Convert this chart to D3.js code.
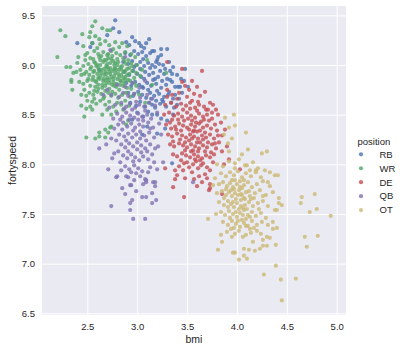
<!DOCTYPE html>
<html>
<head>
<meta charset="utf-8">
<script src="https://cdn.jsdelivr.net/npm/d3@7"></script>
<style>
  body { margin: 0; background: #fff; }
  text { font-family: "Liberation Sans", Arial, sans-serif; fill: #262626; }
</style>
</head>
<body>
<div id="chart"></div>
<script>
// categories and colours (seaborn "deep")
const positions = ['RB', 'WR', 'DE', 'QB', 'OT'];
const colors = ['#4C72B0', '#55A868', '#C44E52', '#8172B2', '#CCB974'];
const xTicks = [2.5, 3.0, 3.5, 4.0, 4.5, 5.0];
const yTicks = [6.5, 7.0, 7.5, 8.0, 8.5, 9.0, 9.5];

// [bmi, fortyspeed]
const rbPoints = [
  [2.78,9.45],[2.76,9.37],[2.82,9.33],[2.40,9.22],[2.89,9.23],[3.24,9.16],[3.30,9.16],[3.15,9.14],[3.21,9.08],[3.24,9.10],
  [3.19,9.03],[3.36,8.98],[3.48,8.96],[3.18,8.86],[3.43,8.78],[3.51,8.78],[3.15,8.60],[3.20,8.50],[3.26,8.63],[3.36,8.50],
  [3.20,8.31],[3.35,8.01],[3.15,8.50],[2.55,9.22],[2.62,8.95],[2.70,9.30],[2.53,9.18],[3.35,8.91],[3.33,8.85],
  [2.92,9.20],[2.98,9.24],[3.04,9.19],[3.09,9.22],[3.02,9.22],[2.95,9.28],[3.12,9.26],
  [2.88,9.12],[2.93,9.10],[2.97,9.14],[3.01,9.11],[3.05,9.13],[3.09,9.09],[3.13,9.12],[3.17,9.14],[3.07,9.17],
  [2.86,9.03],[2.91,9.01],[2.95,9.04],[2.99,9.00],[3.03,9.03],[3.07,8.99],[3.11,9.02],[3.15,9.00],[3.20,9.05],[3.26,9.00],[3.32,9.03],
  [2.87,8.93],[2.92,8.90],[2.96,8.94],[3.00,8.91],[3.04,8.88],[3.08,8.93],[3.12,8.90],[3.16,8.92],[3.21,8.88],[3.27,8.91],[3.33,8.94],[3.40,8.90],
  [2.89,8.82],[2.94,8.79],[2.98,8.83],[3.02,8.80],[3.06,8.77],[3.10,8.82],[3.14,8.79],[3.19,8.81],[3.24,8.77],[3.29,8.80],[3.35,8.83],[3.41,8.78],[3.47,8.84],
  [2.91,8.72],[2.96,8.69],[3.01,8.73],[3.05,8.70],[3.09,8.67],[3.13,8.72],[3.17,8.69],[3.22,8.71],[3.27,8.68],[3.32,8.73],[3.38,8.70],[3.45,8.72],
  [2.93,8.62],[2.99,8.59],[3.03,8.63],[3.08,8.58],[3.12,8.62],[3.18,8.57],[3.23,8.61],[3.29,8.58],[3.34,8.62],[3.40,8.60],
  [3.00,8.52],[3.06,8.48],[3.11,8.53],[3.24,8.46],[3.30,8.44],[2.95,8.45],[3.10,8.38],[3.28,8.36],[3.05,8.30],
  [3.03,8.96],[3.13,8.97],[3.23,8.94],[3.16,8.85],[3.07,8.86],[3.25,8.84],[3.11,8.75],[3.20,8.74],[3.30,8.86],[2.97,8.98],
  [3.06,9.06],[3.18,8.98],[3.28,8.96],[3.14,8.66],[3.25,8.65],[3.36,8.66],[3.38,8.78],[3.44,8.86],[3.05,8.78],[3.22,9.01],
  [3.31,8.70],[3.37,8.57],[3.19,8.64],[3.42,8.66]
];
const wrPoints = [
  [2.20,9.08],[2.23,9.35],[2.28,9.29],[2.29,8.98],[2.33,8.98],[2.34,8.83],[2.35,8.75],[2.34,8.85],[2.40,9.02],[2.43,8.95],
  [2.44,8.90],[2.45,9.31],[2.46,9.19],[2.46,8.81],[2.47,8.75],[2.49,8.69],[2.44,8.59],[2.49,8.56],[2.47,8.48],[2.55,8.55],
  [2.58,8.26],[2.62,8.28],[2.68,8.35],[2.71,8.32],[2.74,8.38],[2.65,8.50],[2.74,8.50],[2.89,8.40],[2.91,8.44],[2.49,8.27],
  [2.62,8.32],[2.55,9.39],[2.58,9.44],[2.65,9.37],[2.70,9.35],[2.73,9.35],[2.53,9.33],[2.52,9.28],[2.58,9.29],[2.62,9.26],
  [3.29,8.92],[3.15,8.80],[3.05,8.95],[3.10,9.05],[3.02,8.70],[3.08,8.62],[2.73,8.37],[2.68,8.27],
  [2.55,9.22],[2.63,9.21],[2.68,9.24],[2.72,9.20],[2.78,9.23],[2.85,9.22],[2.60,9.17],[2.76,9.16],[2.82,9.18],[2.90,9.19],
  [2.50,9.12],[2.57,9.14],[2.61,9.11],[2.66,9.13],[2.70,9.10],[2.74,9.14],[2.79,9.12],[2.83,9.10],[2.88,9.13],[2.94,9.11],[2.53,9.07],[2.98,9.08],
  [2.56,9.06],[2.62,9.08],[2.67,9.05],[2.71,9.07],[2.75,9.09],[2.80,9.06],[2.86,9.07],[2.91,9.05],[2.48,9.05],
  [2.51,9.01],[2.58,9.02],[2.63,9.00],[2.66,9.03],[2.69,8.99],[2.73,9.02],[2.77,9.00],[2.81,9.03],[2.85,8.99],[2.89,9.01],[2.94,9.02],[3.00,9.00],[2.46,8.99],
  [2.53,8.96],[2.57,8.94],[2.61,8.97],[2.64,8.95],[2.68,8.93],[2.71,8.96],[2.75,8.94],[2.78,8.97],[2.82,8.95],[2.86,8.93],[2.90,8.96],[2.95,8.94],[2.99,8.92],[2.49,8.93],
  [2.52,8.90],[2.56,8.88],[2.60,8.91],[2.63,8.89],[2.67,8.90],[2.70,8.87],[2.73,8.91],[2.77,8.89],[2.80,8.86],[2.84,8.90],[2.88,8.88],[2.92,8.91],[2.97,8.87],[3.03,8.89],
  [2.50,8.84],[2.55,8.85],[2.59,8.83],[2.62,8.86],[2.66,8.84],[2.69,8.82],[2.72,8.85],[2.76,8.83],[2.79,8.81],[2.83,8.84],[2.87,8.82],[2.91,8.85],[2.96,8.82],
  [2.53,8.79],[2.58,8.78],[2.61,8.80],[2.65,8.77],[2.68,8.79],[2.72,8.76],[2.75,8.80],[2.79,8.78],[2.82,8.75],[2.86,8.79],[2.90,8.77],[2.94,8.76],[2.99,8.79],
  [2.52,8.72],[2.56,8.70],[2.60,8.73],[2.64,8.71],[2.67,8.68],[2.71,8.72],[2.74,8.69],[2.78,8.71],[2.81,8.67],[2.85,8.70],[2.89,8.72],[2.93,8.68],[2.97,8.71],
  [2.55,8.63],[2.59,8.61],[2.63,8.64],[2.68,8.60],[2.72,8.63],[2.76,8.58],[2.80,8.62],[2.84,8.60],[2.88,8.64],[2.92,8.59],[2.57,8.66],[2.70,8.55],[2.79,8.53],[2.86,8.55],
  [2.64,8.92],[2.70,8.98],[2.74,8.88],[2.78,8.92],[2.66,8.86],[2.80,9.00],[2.84,8.96],[2.76,9.04],[2.62,8.94],[2.72,8.82],[2.88,8.85],[2.69,9.05],[2.82,8.88],
  [2.59,8.99],[2.67,8.96],[2.73,8.97],[2.61,8.87],[2.76,8.86],[2.83,8.98],[2.57,9.03],[2.70,9.01],[2.65,8.80],[2.79,8.95],
  [2.87,9.04],[2.63,9.05],[2.77,8.79],[2.69,8.91],[2.81,8.91],[2.74,9.06],[2.56,8.93],[2.92,8.97],[2.86,8.87],[2.68,8.74],
  [2.58,8.84],[2.72,8.93],[2.64,9.09],[2.83,8.80],[2.90,8.90],[2.54,8.98],[2.66,8.66],[2.78,9.02],[2.95,8.99],[2.61,8.76],
  [2.75,8.73],[2.51,8.86],[2.88,8.94],[2.71,9.11],[2.60,9.00],[2.84,8.84],[2.69,8.85],[2.77,8.96],[2.93,8.84],[2.57,8.74],
  [2.47,8.91],[2.42,8.83],[2.44,8.70],[2.39,8.93],[2.48,9.10],[2.41,9.08],[2.36,8.92],[2.50,8.64],[2.53,8.58]
];
const dePoints = [
  [3.30,9.03],[3.45,8.96],[3.65,8.94],[3.73,8.62],[4.03,7.95],[3.85,7.70],[3.73,7.80],[3.73,7.76],[3.36,7.77],[3.47,7.67],
  [3.38,7.85],[3.40,7.89],[3.48,7.86],[3.38,7.94],[3.28,7.96],[3.73,7.94],[3.72,7.74],[3.81,8.50],[3.75,8.52],[3.85,8.29],
  [3.90,8.18],[3.85,8.13],[3.55,8.84],[3.45,8.83],[3.60,8.78],[3.48,8.79],[3.52,8.75],[3.30,8.75],[3.61,8.63],
  [3.79,8.55],[3.84,8.42],[3.88,8.35],[3.82,8.22],[3.92,8.05],[3.87,8.00],
  [3.35,8.70],[3.42,8.72],[3.50,8.68],[3.57,8.71],[3.63,8.69],[3.68,8.73],[3.40,8.66],[3.55,8.64],[3.30,8.68],
  [3.28,8.60],[3.34,8.62],[3.39,8.58],[3.44,8.61],[3.49,8.59],[3.53,8.62],[3.58,8.57],[3.62,8.60],[3.67,8.58],[3.71,8.55],[3.76,8.60],[3.46,8.55],[3.60,8.54],
  [3.27,8.50],[3.32,8.52],[3.37,8.49],[3.41,8.51],[3.45,8.48],[3.50,8.52],[3.54,8.49],[3.58,8.47],[3.62,8.51],[3.66,8.48],[3.70,8.50],[3.75,8.46],[3.35,8.45],[3.55,8.44],[3.64,8.43],
  [3.29,8.40],[3.33,8.42],[3.38,8.38],[3.42,8.41],[3.46,8.39],[3.50,8.37],[3.54,8.40],[3.58,8.38],[3.62,8.41],[3.66,8.37],[3.70,8.39],[3.74,8.36],[3.78,8.40],[3.44,8.34],[3.60,8.33],[3.68,8.32],
  [3.31,8.30],[3.35,8.28],[3.40,8.31],[3.45,8.29],[3.49,8.27],[3.53,8.30],[3.57,8.28],[3.61,8.26],[3.65,8.29],[3.69,8.27],[3.73,8.30],[3.77,8.26],[3.81,8.29],[3.52,8.24],[3.63,8.22],[3.56,8.33],
  [3.33,8.20],[3.37,8.18],[3.42,8.21],[3.46,8.19],[3.50,8.17],[3.54,8.20],[3.58,8.18],[3.62,8.16],[3.66,8.19],[3.70,8.17],[3.75,8.20],[3.79,8.16],[3.60,8.22],[3.68,8.13],[3.56,8.14],
  [3.36,8.10],[3.40,8.08],[3.45,8.11],[3.49,8.09],[3.53,8.07],[3.57,8.10],[3.61,8.08],[3.65,8.06],[3.69,8.09],[3.73,8.07],[3.77,8.10],[3.59,8.03],[3.66,8.01],
  [3.42,7.98],[3.47,8.01],[3.52,7.97],[3.56,8.00],[3.61,7.96],[3.64,7.99],[3.70,7.97],[3.76,8.02],[3.55,7.92],[3.68,7.90],[3.62,7.88],
  [3.57,7.85],[3.65,7.82],[3.60,7.78],[3.70,7.86],
  [3.47,8.44],[3.52,8.35],[3.59,8.42],[3.43,8.25],[3.48,8.14],[3.55,8.26],[3.63,8.34],[3.71,8.22],[3.39,8.35],[3.58,8.05],
  [3.51,8.46],[3.67,8.45],[3.44,8.04],[3.74,8.12],[3.61,8.13],[3.53,8.56],[3.41,8.45],[3.66,8.25],[3.48,8.22],[3.57,8.34],
  [3.72,8.44],[3.36,8.23],[3.80,8.34],[3.63,8.04],[3.50,8.02],[3.69,8.55],[3.34,8.36],[3.46,7.94],[3.78,8.21],[3.54,8.13]
];
const qbPoints = [
  [2.62,8.16],[2.71,7.95],[2.74,8.26],[2.77,8.11],[2.79,7.87],[2.85,7.76],[2.94,7.79],[2.99,7.91],[3.09,7.84],[3.11,7.92],
  [2.74,7.58],[2.96,7.45],[3.08,7.45],[2.93,7.54],[2.95,7.64],[3.05,7.67],[3.09,7.67],[3.15,7.61],[3.19,7.64],[3.15,7.71],
  [2.88,7.70],[2.80,7.88],[2.89,7.88],[2.93,7.79],[3.16,7.82],[3.18,7.82],[3.09,7.82],[3.08,7.85],[2.93,7.61],[3.18,8.16],
  [3.17,8.02],[3.26,8.02],[3.56,7.82],[3.18,7.78],[2.73,9.15],[2.88,9.08],
  [2.80,8.80],[2.88,8.78],[2.95,8.82],[3.02,8.77],[2.70,8.75],[3.08,8.84],
  [2.74,8.70],[2.82,8.68],[2.86,8.72],[2.91,8.69],[2.97,8.71],[3.03,8.67],[3.10,8.70],[2.66,8.70],[3.15,8.66],
  [2.78,8.60],[2.84,8.62],[2.89,8.58],[2.93,8.61],[2.98,8.57],[3.02,8.60],[3.07,8.58],[3.12,8.62],[2.72,8.57],[3.18,8.59],
  [2.80,8.51],[2.85,8.48],[2.89,8.52],[2.93,8.49],[2.97,8.47],[3.01,8.51],[3.05,8.48],[3.10,8.50],[3.14,8.46],[2.76,8.46],[3.20,8.52],
  [2.81,8.40],[2.86,8.42],[2.90,8.38],[2.94,8.41],[2.98,8.37],[3.02,8.40],[3.06,8.38],[3.11,8.42],[3.16,8.37],[2.77,8.36],[3.22,8.41],
  [2.82,8.30],[2.87,8.28],[2.91,8.31],[2.95,8.27],[2.99,8.30],[3.03,8.26],[3.07,8.29],[3.12,8.32],[3.17,8.27],[2.79,8.24],[3.24,8.30],
  [2.84,8.20],[2.88,8.17],[2.92,8.21],[2.96,8.18],[3.00,8.15],[3.04,8.19],[3.08,8.16],[3.13,8.20],[2.81,8.13],[3.21,8.18],[2.69,8.20],
  [2.86,8.09],[2.90,8.06],[2.94,8.10],[2.98,8.07],[3.02,8.04],[3.06,8.08],[3.11,8.05],[3.15,8.10],[2.83,8.02],[2.75,8.06],
  [2.88,7.98],[2.92,7.95],[2.97,7.99],[3.01,7.96],[3.05,7.93],[3.13,7.97],[2.84,7.94],[3.20,7.95],
  [2.91,7.87],[2.97,7.84],[3.03,7.88],[3.06,7.80],[2.99,7.73],
  [2.92,8.45],[2.96,8.34],[3.03,8.33],[2.89,8.24],[3.00,8.22],[3.06,8.44],[2.95,8.55],[3.09,8.24],[2.85,8.35],[3.04,8.12],
  [2.91,8.13],[3.08,8.54],[2.99,8.63],[2.87,8.56],[3.13,8.36],[2.96,8.03],[2.83,8.45],[3.10,8.13],[2.94,7.92],[3.01,8.45]
];
const otPoints = [
  [3.88,8.47],[3.97,8.50],[3.92,8.37],[3.98,8.39],[4.09,8.32],[3.87,8.30],[3.95,8.26],[3.91,8.21],[3.92,8.13],[4.11,8.15],
  [4.05,8.10],[4.25,8.11],[4.30,8.13],[3.98,8.01],[4.08,7.99],[4.33,7.92],[4.38,7.89],[4.41,7.89],[4.19,7.94],[4.13,7.94],[4.31,7.82],
  [3.92,8.03],[3.86,7.98],[3.98,7.96],[4.02,8.05],[4.10,7.99],[4.16,8.02],[4.21,7.96],[3.80,8.00],
  [3.84,7.91],[3.89,7.88],[3.93,7.92],[3.97,7.89],[4.01,7.93],[4.05,7.87],[4.09,7.91],[4.14,7.88],[4.19,7.92],[4.24,7.87],[3.78,7.86],[4.28,7.94],
  [3.82,7.80],[3.86,7.82],[3.90,7.78],[3.93,7.81],[3.96,7.77],[4.00,7.80],[4.03,7.83],[4.07,7.79],[4.11,7.82],[4.15,7.77],[4.20,7.80],[4.26,7.83],[4.33,7.78],[3.76,7.79],[3.95,7.84],[4.05,7.76],
  [3.80,7.71],[3.85,7.73],[3.89,7.69],[3.92,7.72],[3.95,7.68],[3.98,7.71],[4.02,7.74],[4.05,7.69],[4.09,7.72],[4.13,7.68],[4.18,7.71],[4.23,7.74],[4.29,7.69],[4.36,7.72],[3.97,7.75],[4.07,7.66],
  [3.82,7.62],[3.87,7.59],[3.91,7.63],[3.94,7.60],[3.97,7.57],[4.00,7.61],[4.04,7.64],[4.08,7.59],[4.12,7.62],[4.16,7.58],[4.21,7.61],[4.26,7.63],[4.31,7.58],[3.99,7.65],[4.06,7.56],[4.14,7.65],
  [3.84,7.52],[3.88,7.49],[3.92,7.53],[3.96,7.50],[4.00,7.47],[4.03,7.51],[4.07,7.54],[4.11,7.49],[4.15,7.52],[4.19,7.48],[4.24,7.51],[4.29,7.46],[4.02,7.55],[4.09,7.45],[3.79,7.50],
  [3.86,7.42],[3.91,7.39],[3.95,7.43],[3.99,7.40],[4.03,7.37],[4.07,7.41],[4.11,7.38],[4.15,7.43],[4.20,7.39],[4.25,7.42],[4.05,7.44],[4.13,7.35],
  [3.90,7.32],[3.98,7.30],[4.02,7.33],[4.09,7.29],[4.14,7.31],[4.20,7.33],[4.24,7.30],[3.94,7.35],
  [4.78,7.70],[4.65,7.67],[4.64,7.61],[4.73,7.52],[4.80,7.55],[4.94,7.48],[4.68,7.27],[4.81,7.28],[4.70,7.17],[4.39,7.19],
  [4.39,6.98],[4.27,6.89],[4.44,6.84],[4.59,6.85],[4.45,6.63],[3.71,7.45],[3.81,7.14],[3.96,7.11],[3.98,7.11],[4.02,7.04],
  [4.07,7.08],[4.10,7.05],[4.18,7.13],[4.23,7.15],[4.26,7.18],[4.30,7.18],[4.12,7.14],[4.07,7.15],[3.84,7.29],[3.85,7.22],
  [3.95,7.27],[4.06,7.27],[4.16,7.22],[4.26,7.24],[4.30,7.27],[4.33,7.26],[4.36,7.35],[4.40,7.36],[4.36,7.42],[4.31,7.39],
  [4.45,7.59],[4.42,7.61],[4.42,7.66],[4.40,7.54],[4.38,7.54],
  [3.96,7.62],[4.01,7.69],[4.04,7.58],[3.99,7.52],[4.08,7.65],[3.94,7.74],[4.12,7.73],[4.06,7.49],[3.93,7.46],[4.10,7.55],
  [3.98,7.84],[4.03,7.77],[4.17,7.66],[3.91,7.57],[4.01,7.43],[4.13,7.47],[4.07,7.84],[3.89,7.75],[4.22,7.55],[3.97,7.36],
  [4.17,7.36],[4.04,7.70],[3.87,7.66],[4.09,7.38],[4.26,7.68]
];
const groups = [rbPoints, wrPoints, dePoints, qbPoints, otPoints];

const W = 404, H = 352;
const plot = {left: 42, right: 346, top: 6, bottom: 315};

const svg = d3.select('#chart').append('svg')
  .attr('width', W)
  .attr('height', H);

const x = d3.scaleLinear().domain([2.046, 5.093]).range([plot.left, plot.right]);
const y = d3.scaleLinear().domain([6.483, 9.594]).range([plot.bottom, plot.top]);

// background
svg.append('rect')
  .attr('x', plot.left)
  .attr('y', plot.top)
  .attr('width', plot.right - plot.left)
  .attr('height', plot.bottom - plot.top)
  .style('fill', '#EAEAF2');

// x grid + labels
const xAxis = svg.append('g')
  .attr('transform', 'translate(' + [0, plot.bottom] + ')')
  .call(d3.axisBottom(x).tickValues(xTicks).tickFormat(d3.format('.1f'))
    .tickSize(-(plot.bottom - plot.top)).tickPadding(8));
// y grid + labels
const yAxis = svg.append('g')
  .attr('transform', 'translate(' + [plot.left, 0] + ')')
  .call(d3.axisLeft(y).tickValues(yTicks).tickFormat(d3.format('.1f'))
    .tickSize(-(plot.right - plot.left)).tickPadding(7));

[xAxis, yAxis].forEach(g => {
  g.select('.domain').remove();
  g.selectAll('.tick line').style('stroke', '#fff').style('stroke-width', 1);
  g.selectAll('.tick text').style('font-size', '9.5px').style('fill', '#262626')
    .style('font-family', '"Liberation Sans", Arial, sans-serif');
});

// points, drawn in hue order
groups.forEach((pts, i) => {
  svg.append('g')
    .attr('class', 'pos-' + positions[i])
    .selectAll('circle')
    .data(pts)
    .enter()
    .append('circle')
    .attr('cx', d => x(d[0]))
    .attr('cy', d => y(d[1]))
    .attr('r', 2.1)
    .style('fill', colors[i])
    .style('fill-opacity', 0.8);
});

// axis titles
svg.append('text')
  .attr('x', (plot.left + plot.right) / 2)
  .attr('y', 343)
  .attr('text-anchor', 'middle')
  .style('font-size', '10.5px')
  .text('bmi');

svg.append('text')
  .attr('transform', 'translate(' + [15.5, (plot.top + plot.bottom) / 2] + ') rotate(-90)')
  .attr('text-anchor', 'middle')
  .style('font-size', '10.5px')
  .text('fortyspeed');

// legend
const legend = svg.append('g').attr('class', 'legend');
legend.append('text')
  .attr('x', 357.5)
  .attr('y', 144.5)
  .style('font-size', '9.5px')
  .text('position');

const items = legend.selectAll('g.item')
  .data(positions)
  .enter()
  .append('g')
  .attr('class', 'item')
  .attr('transform', (d, i) => 'translate(' + [361, 154.3 + i * 13.95] + ')');

items.append('circle')
  .attr('r', 2.1)
  .style('fill', (d, i) => colors[i])
  .style('fill-opacity', 0.8);

items.append('text')
  .attr('x', 18.5)
  .attr('dy', '0.35em')
  .style('font-size', '9.5px')
  .text(d => d);
</script>
</body>
</html>
